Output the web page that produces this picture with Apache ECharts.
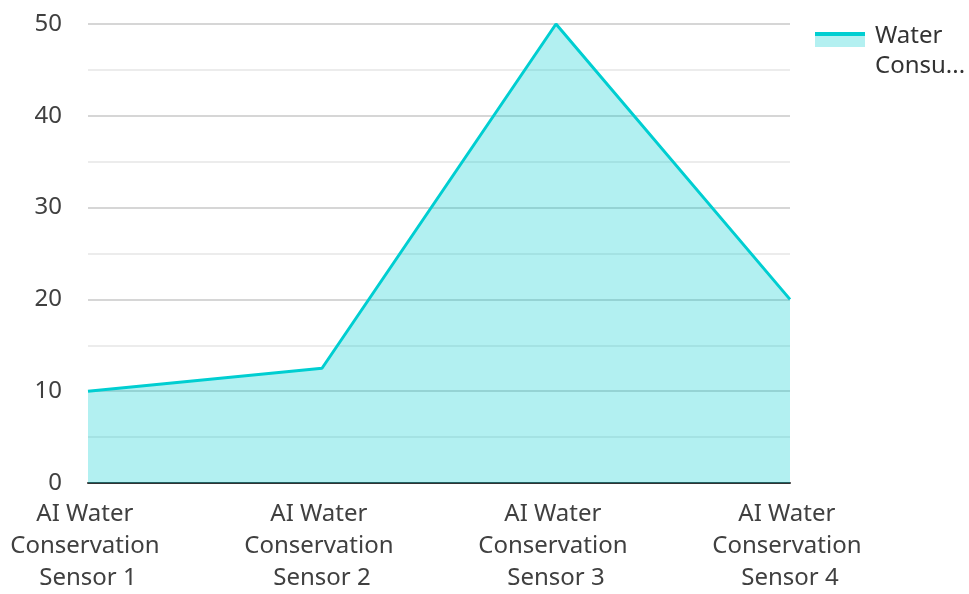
<!DOCTYPE html>
<html>
<head>
<meta charset="utf-8">
<script src="https://cdn.jsdelivr.net/npm/echarts@6/dist/echarts.min.js"></script>
<style>
  html, body { margin: 0; padding: 0; background: #fff; overflow: hidden; }
  #chart { width: 969px; height: 594px; }
</style>
</head>
<body>
<div id="chart"></div>
<script>
// Sensor categories and their water consumption readings
const categories = [
  'AI Water Conservation Sensor 1',
  'AI Water Conservation Sensor 2',
  'AI Water Conservation Sensor 3',
  'AI Water Conservation Sensor 4'
];
const seriesName = 'Water Consumption';
const consumption = [10, 12.5, 50, 20];
const yTicks = { min: 0, max: 50, interval: 10 };

const font = '"Noto Sans", sans-serif';
const lineColor = '#00CED1';
const fillColor = 'rgba(0, 206, 209, 0.3)';
const paleColor = '#b3f0f1';
const labelColor = '#404040';

const chart = echarts.init(document.getElementById('chart'));
chart.setOption({
  animation: false,
  textStyle: { fontFamily: font },
  grid: { left: 88, top: 24, width: 702, height: 466 },
  legend: {
    left: 815,
    top: 21,
    padding: 0,
    orient: 'vertical',
    icon: 'rect',
    itemWidth: 50,
    itemHeight: 38,
    // swatch: stroke band over the pale area fill, lower part left empty
    itemStyle: {
      color: new echarts.graphic.LinearGradient(0, 0, 0, 1, [
        { offset: 0, color: lineColor },
        { offset: 0.105, color: lineColor },
        { offset: 0.105, color: paleColor },
        { offset: 0.395, color: paleColor },
        { offset: 0.395, color: 'rgba(255,255,255,0)' },
        { offset: 1, color: 'rgba(255,255,255,0)' }
      ])
    },
    formatter: name => name.replace(' ', '\n'),
    textStyle: {
      fontFamily: font,
      fontSize: 24,
      color: '#333',
      width: 100,
      lineHeight: 30,
      overflow: 'truncate',
      padding: [0, 0, 0, 5]
    },
    data: [seriesName]
  },
  xAxis: {
    type: 'category',
    data: categories,
    boundaryGap: false,
    axisLine: { lineStyle: { color: '#333', width: 2 } },
    axisTick: { show: false },
    axisLabel: {
      fontFamily: font,
      fontSize: 24,
      lineHeight: 32,
      color: labelColor,
      margin: 15,
      width: 160,
      overflow: 'break',
      interval: 0
    },
    splitLine: { show: false }
  },
  yAxis: {
    type: 'value',
    min: yTicks.min,
    max: yTicks.max,
    interval: yTicks.interval,
    axisLine: { show: false },
    axisTick: { show: false },
    axisLabel: {
      fontFamily: font,
      fontSize: 24,
      color: labelColor,
      margin: 26
    },
    splitLine: { lineStyle: { color: '#c8c8c8', width: 1.5 } },
    minorTick: { show: false, splitNumber: 2 },
    minorSplitLine: { show: true, lineStyle: { color: '#e6e6e6', width: 1.5 } }
  },
  series: [{
    name: seriesName,
    type: 'line',
    data: consumption,
    showSymbol: false,
    symbol: 'none',
    lineStyle: { color: lineColor, width: 3 },
    itemStyle: { color: lineColor },
    areaStyle: { color: fillColor, opacity: 1 }
  }]
});
</script>
</body>
</html>
